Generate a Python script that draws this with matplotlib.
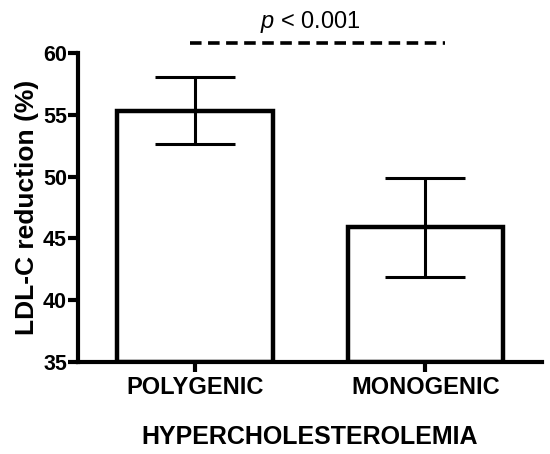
import matplotlib.pyplot as plt

# data
groups = ['POLYGENIC', 'MONOGENIC']
means = [55.3, 45.9]
err_low = [52.6, 41.9]
err_high = [58.1, 49.9]

plt.rcParams['font.family'] = ['Liberation Sans', 'DejaVu Sans']
plt.rcParams['mathtext.fontset'] = 'custom'
plt.rcParams['mathtext.it'] = 'Liberation Sans:italic'

fig = plt.figure(figsize=(5.5, 4.54), dpi=100)
ax = fig.add_axes([0.142, 0.203, 0.843, 0.68])

x = [0, 1]
yerr = [[m - lo for m, lo in zip(means, err_low)],
        [hi - m for m, hi in zip(means, err_high)]]

ax.bar(x, [m - 35 for m in means], bottom=35, width=0.675,
       color='white', edgecolor='black', linewidth=3.2, zorder=2)
ax.errorbar(x, means, yerr=yerr, fmt='none', ecolor='black',
            elinewidth=2.2, capsize=29, capthick=2.2, zorder=3)

ax.set_xlim(-0.508, 1.505)
ax.set_ylim(35, 60)
ax.set_yticks([35, 40, 45, 50, 55, 60])
ax.set_xticks(x)
ax.set_xticklabels(groups)

for s in ['top', 'right']:
    ax.spines[s].set_visible(False)
for s in ['left', 'bottom']:
    ax.spines[s].set_linewidth(3)

ax.tick_params(axis='y', length=7, width=3, labelsize=15.5, pad=1)
ax.tick_params(axis='x', length=7, width=3, labelsize=17, pad=3)
for lab in ax.get_xticklabels() + ax.get_yticklabels():
    lab.set_fontweight('bold')

ax.set_ylabel('LDL-C reduction (%)', fontsize=19, fontweight='bold', labelpad=3)
ax.set_xlabel('HYPERCHOLESTEROLEMIA', fontsize=18, fontweight='bold', labelpad=19)

# significance line above the bars
ax.plot([-0.022, 1.085], [60.8, 60.8], color='black', linewidth=2.6,
        linestyle=(0, (3.2, 1.8)), clip_on=False)
ax.text(0.5, 61.5, r'$p$ < 0.001', ha='center', va='bottom',
        fontsize=17, clip_on=False)

fig.savefig('out.png', dpi=100)
